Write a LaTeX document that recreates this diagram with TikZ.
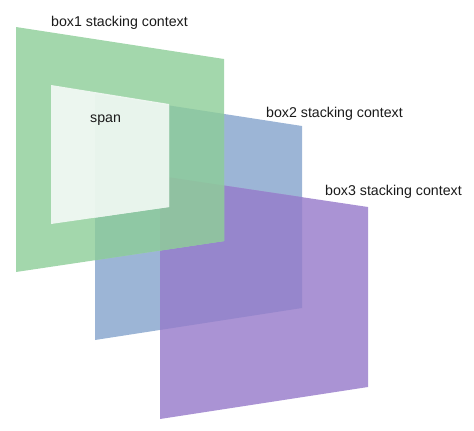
\documentclass[tikz,border=0pt]{standalone}
\usepackage{fontspec}
\setmainfont{Liberation Sans}
\definecolor{cgreen}{HTML}{A3D7AC}
\definecolor{cblue}{HTML}{9CB5D6}
\definecolor{cpurple}{HTML}{AA93D4}
\definecolor{cbluepurple}{HTML}{9686CC}
\definecolor{cgreenblue}{HTML}{8FC8A4}
\definecolor{cgreenpurple}{HTML}{90C1A1}
\definecolor{cspan}{HTML}{ECF6EF}
\definecolor{cspanblue}{HTML}{E8F4EC}
\definecolor{ctext}{HTML}{1A1A1A}
\begin{document}
\begin{tikzpicture}[x=1pt,y=-1pt,
  lbl/.style={anchor=base west,inner sep=0pt,font=\fontsize{14.2}{16}\selectfont,text=ctext}]
\useasboundingbox (0,0) rectangle (474,431);
\def\boxone{(16,27)--(224,59)--(224,241)--(16,272)--cycle}
\def\boxtwo{(95,94)--(302,126)--(302,308)--(95,340)--cycle}
\def\boxthree{(160,176)--(368,207)--(368,387)--(160,419)--cycle}
\def\spanbox{(51,85)--(169,104)--(169,207)--(51,224)--cycle}
% box2
\fill[cblue] \boxtwo;
% box3
\fill[cpurple] \boxthree;
\begin{scope}
  \clip \boxtwo;
  \fill[cbluepurple] \boxthree;
\end{scope}
% box1
\fill[cgreen] \boxone;
\begin{scope}
  \clip \boxone;
  \fill[cgreenblue] \boxtwo;
  \clip \boxtwo;
  \fill[cgreenpurple] \boxthree;
\end{scope}
% span
\fill[cspan] \spanbox;
\begin{scope}
  \clip \spanbox;
  \fill[cspanblue] \boxtwo;
\end{scope}
% labels
\node[lbl] (l1) at (51,26.5) {box1 stacking context};
\node[lbl] (l2) at (266,117) {box2 stacking context};
\node[lbl] (l3) at (325,195) {box3 stacking context};
\node[lbl] (ls) at (90,122.5) {span};
\end{tikzpicture}
\end{document}
